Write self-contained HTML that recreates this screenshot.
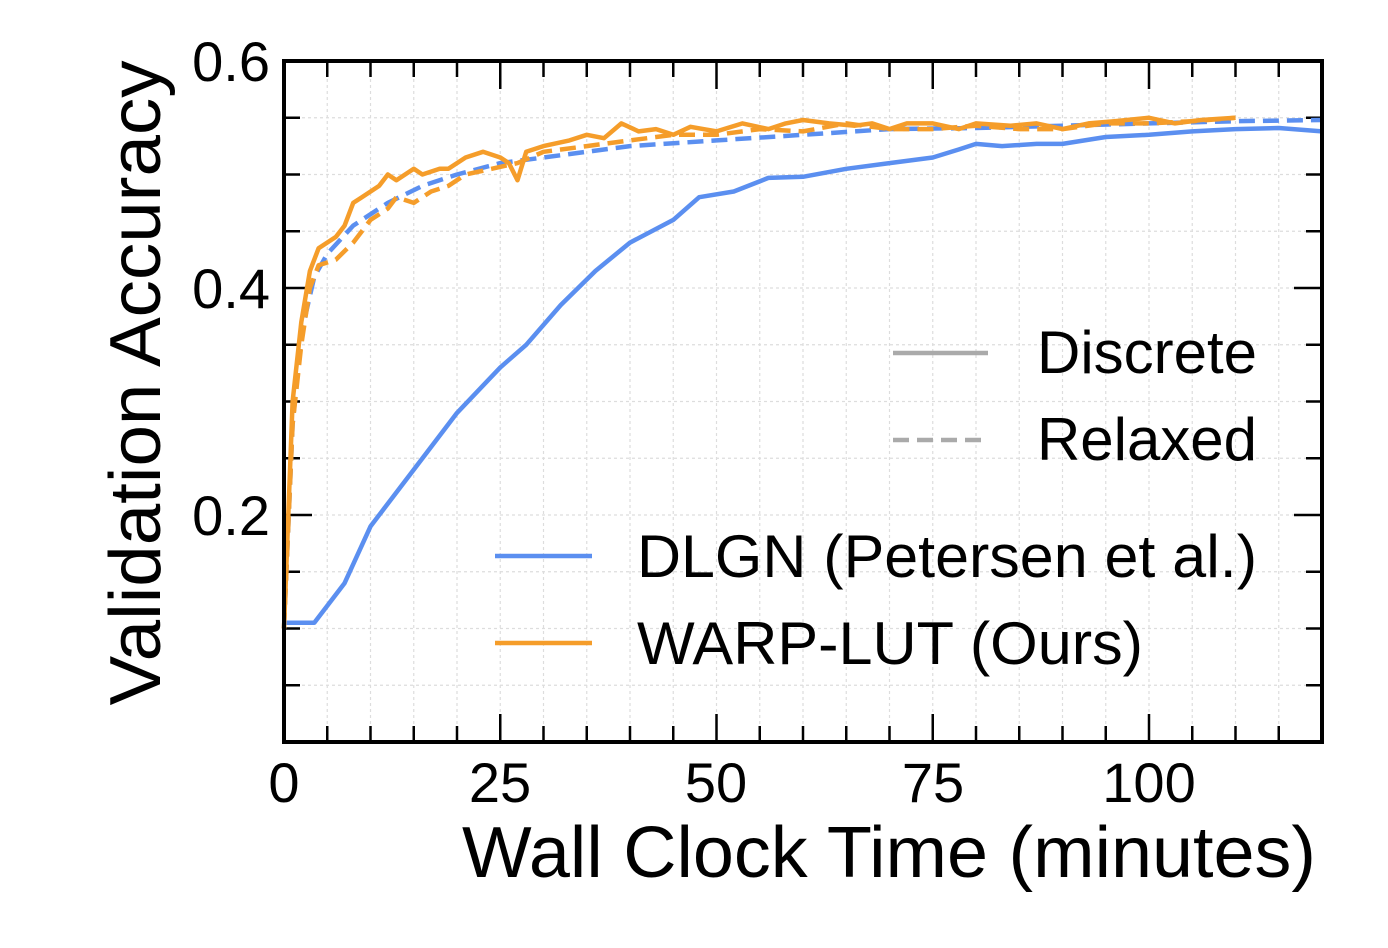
<!DOCTYPE html>
<html><head><meta charset="utf-8"><style>
html,body{margin:0;padding:0;background:#fff;}
svg{display:block;font-family:"Liberation Sans",Arial,sans-serif;}
</style></head><body>
<svg id="s" width="1388" height="948" viewBox="0 0 1388 948" xmlns="http://www.w3.org/2000/svg">
<g id="grid" stroke="#ddd" stroke-width="1.2" stroke-dasharray="3,3"></g>
<g id="ticks" stroke="#000" stroke-width="2.5"></g>
<g fill="none" stroke-width="4.5" stroke-linejoin="round">
<path id="bd" stroke="#5b8ff0" stroke-dasharray="16,8"/>
<path id="od" stroke="#f59d2a" stroke-dasharray="16,8"/>
<path id="bs" stroke="#5b8ff0"/>
<path id="os" stroke="#f59d2a"/>
</g>
<rect x="284" y="61" width="1038" height="681" fill="none" stroke="#000" stroke-width="4"/>
<g font-size="56" fill="#000" text-anchor="middle">
<text x="284" y="802">0</text><text x="500" y="802">25</text><text x="716" y="802">50</text><text x="933" y="802">75</text><text x="1149" y="802">100</text>
</g>
<g font-size="56" fill="#000" text-anchor="end">
<text x="270" y="81">0.6</text><text x="270" y="308">0.4</text><text x="270" y="535">0.2</text>
</g>
<text x="889" y="877" font-size="72" textLength="854" lengthAdjust="spacingAndGlyphs" text-anchor="middle">Wall Clock Time (minutes)</text>
<text transform="translate(160,383) rotate(-90)" font-size="72" textLength="645" lengthAdjust="spacingAndGlyphs" text-anchor="middle">Validation Accuracy</text>
<g stroke-width="4.5">
<line x1="893" y1="353" x2="988" y2="353" stroke="#aaa"/>
<line x1="893" y1="440" x2="988" y2="440" stroke="#aaa" stroke-dasharray="16,8"/>
<line x1="495" y1="556" x2="592" y2="556" stroke="#5b8ff0"/>
<line x1="495" y1="643" x2="592" y2="643" stroke="#f59d2a"/>
</g>
<g font-size="60" fill="#000">
<text x="1037" y="373" textLength="220" lengthAdjust="spacingAndGlyphs">Discrete</text>
<text x="1037" y="460" textLength="220" lengthAdjust="spacingAndGlyphs">Relaxed</text>
<text x="637" y="577" textLength="620" lengthAdjust="spacingAndGlyphs">DLGN (Petersen et al.)</text>
<text x="637" y="664" textLength="506" lengthAdjust="spacingAndGlyphs">WARP-LUT (Ours)</text>
</g>
</svg>
<script>
const X=t=>284+8.65*t, Y=v=>742-v*1135;
const ns="http://www.w3.org/2000/svg";
function ln(g,x1,y1,x2,y2){const l=document.createElementNS(ns,"line");l.setAttribute("x1",x1);l.setAttribute("y1",y1);l.setAttribute("x2",x2);l.setAttribute("y2",y2);document.getElementById(g).appendChild(l);}
for(let t=5;t<120;t+=5){const x=X(t);ln("grid",x,61,x,742);const L=t%25==0?28:16;ln("ticks",x,742,x,742-L);ln("ticks",x,61,x,61+L);}
for(let v=0.05;v<0.6;v+=0.05){const y=Y(v);ln("grid",284,y,1322,y);const L=Math.abs(v/0.2-Math.round(v/0.2))<0.01?28:16;ln("ticks",284,y,284+L,y);ln("ticks",1322,y,1322-L,y);}
function P(id,d){document.getElementById(id).setAttribute("d",d.map((p,i)=>(i?"L":"M")+X(p[0]).toFixed(1)+","+Y(p[1]).toFixed(1)).join(""));}
P("bs",[[0,0.105],[3.5,0.105],[7,0.14],[10,0.19],[15,0.24],[20,0.29],[25,0.33],[28,0.35],[32,0.385],[36,0.415],[40,0.44],[45,0.46],[48,0.48],[52,0.485],[56,0.497],[60,0.498],[65,0.505],[70,0.51],[75,0.515],[78,0.522],[80,0.527],[83,0.525],[87,0.527],[90,0.527],[95,0.533],[100,0.535],[105,0.538],[110,0.54],[115,0.541],[120,0.538]]);
P("bd",[[0,0.1],[1,0.28],[2,0.36],[3.5,0.41],[5,0.43],[8,0.455],[12,0.475],[16,0.49],[20,0.5],[25,0.51],[30,0.515],[40,0.525],[50,0.53],[60,0.535],[70,0.54],[80,0.541],[90,0.543],[100,0.545],[110,0.547],[120,0.548]]);
P("os",[[0,0.1],[1,0.3],[2,0.37],[3,0.415],[4,0.435],[6,0.445],[7,0.455],[8,0.475],[9,0.48],[11,0.49],[12,0.5],[13,0.495],[15,0.505],[16,0.5],[18,0.505],[19,0.505],[21,0.515],[23,0.52],[25,0.515],[26,0.51],[27,0.495],[28,0.52],[30,0.525],[33,0.53],[35,0.535],[37,0.532],[39,0.545],[41,0.538],[43,0.54],[45,0.535],[47,0.542],[50,0.538],[53,0.545],[56,0.54],[58,0.545],[60,0.548],[63,0.545],[66,0.543],[68,0.545],[70,0.54],[72,0.545],[75,0.545],[78,0.54],[80,0.545],[84,0.543],[87,0.545],[90,0.54],[93,0.545],[96,0.547],[100,0.55],[103,0.545],[106,0.548],[110,0.55]]);
P("od",[[0,0.1],[1,0.28],[2,0.35],[3,0.4],[4,0.42],[6,0.425],[8,0.44],[10,0.46],[12,0.47],[13,0.48],[15,0.475],[17,0.485],[19,0.49],[21,0.5],[24,0.505],[27,0.51],[30,0.52],[35,0.525],[40,0.53],[45,0.535],[50,0.535],[55,0.54],[60,0.538],[65,0.545],[70,0.54],[75,0.54],[80,0.543],[85,0.54],[90,0.54],[95,0.545],[100,0.545],[105,0.547],[110,0.55]]);
</script>
</body></html>
